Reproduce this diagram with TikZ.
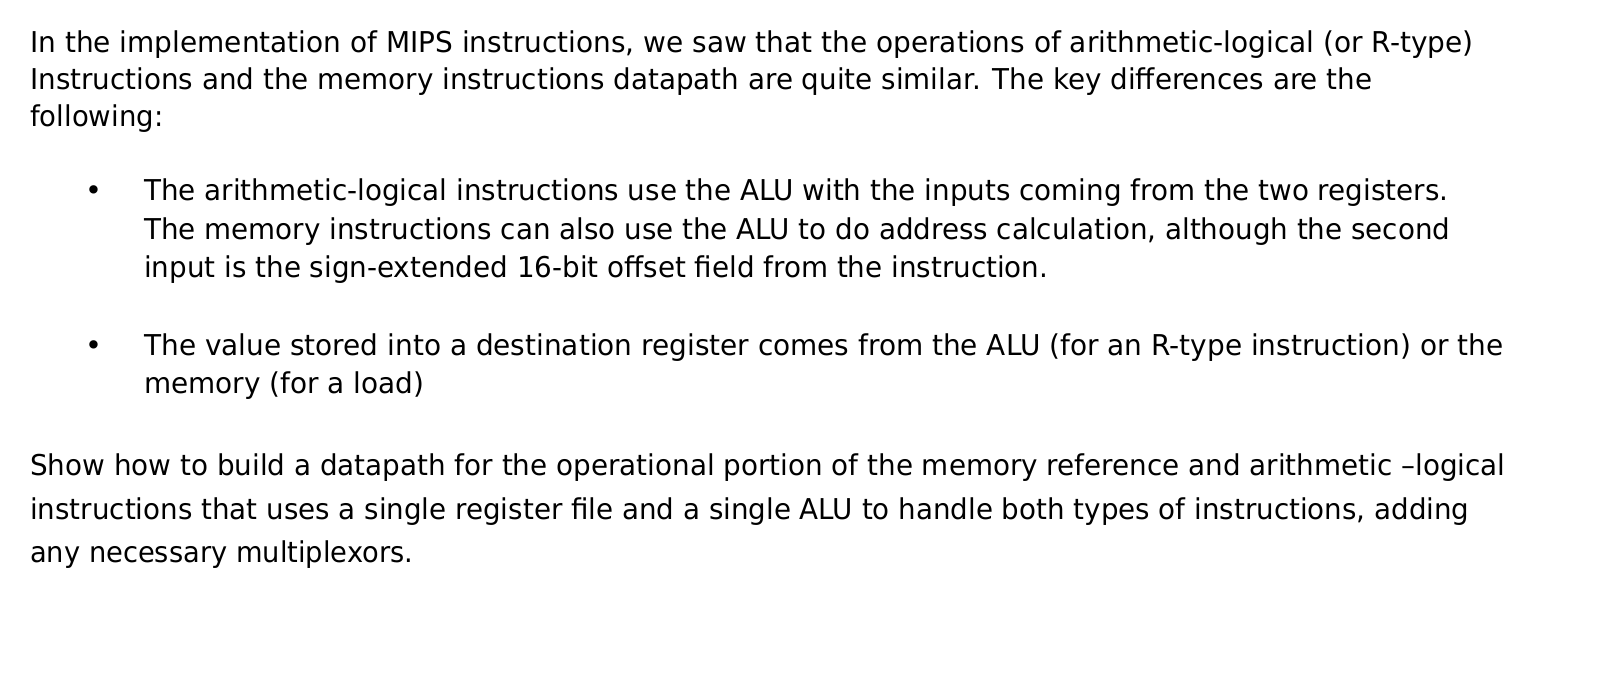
\documentclass[tikz,border=0pt]{standalone}
\usepackage{graphicx}
\usepackage{fontspec}
\setmainfont{DejaVu Sans}
\newcommand\myline[4]{\node[anchor=base west,inner sep=0pt] (#1) at (#2) {\resizebox{#3\dimexpr0.75pt\relax}{\height}{#4}};}
\begin{document}
\begin{tikzpicture}[x=0.75pt,y=-0.75pt,every node/.style={font=\fontsize{21.5pt}{26pt}\selectfont}]
\useasboundingbox[fill=white] (0,0) rectangle (1623,675);
\myline{a1}{30,52}{1443}{In the implementation of MIPS instructions, we saw that the operations of arithmetic-logical (or R-type)}
\myline{a2}{30,89}{1342}{Instructions and the memory instructions datapath are quite similar. The key differences are the}
\myline{a3}{30,126}{133}{following:}
\node[anchor=base,inner sep=0pt] (d1) at (94,200) {•};
\myline{b1}{144,200}{1304}{The arithmetic-logical instructions use the ALU with the inputs coming from the two registers.}
\myline{b2}{144,239}{1306}{The memory instructions can also use the ALU to do address calculation, although the second}
\myline{b3}{144,277}{904}{input is the sign-extended 16-bit offset field from the instruction.}
\node[anchor=base,inner sep=0pt] (d2) at (94,355) {•};
\myline{c1}{144,355}{1359}{The value stored into a destination register comes from the ALU (for an R-type instruction) or the}
\myline{c2}{144,393}{280}{memory (for a load)}
\myline{e1}{30,475}{1475}{Show how to build a datapath for the operational portion of the memory reference and arithmetic –logical}
\myline{e2}{30,519}{1439}{instructions that uses a single register file and a single ALU to handle both types of instructions, adding}
\myline{e3}{30,562}{383}{any necessary multiplexors.}
\end{tikzpicture}
\end{document}
